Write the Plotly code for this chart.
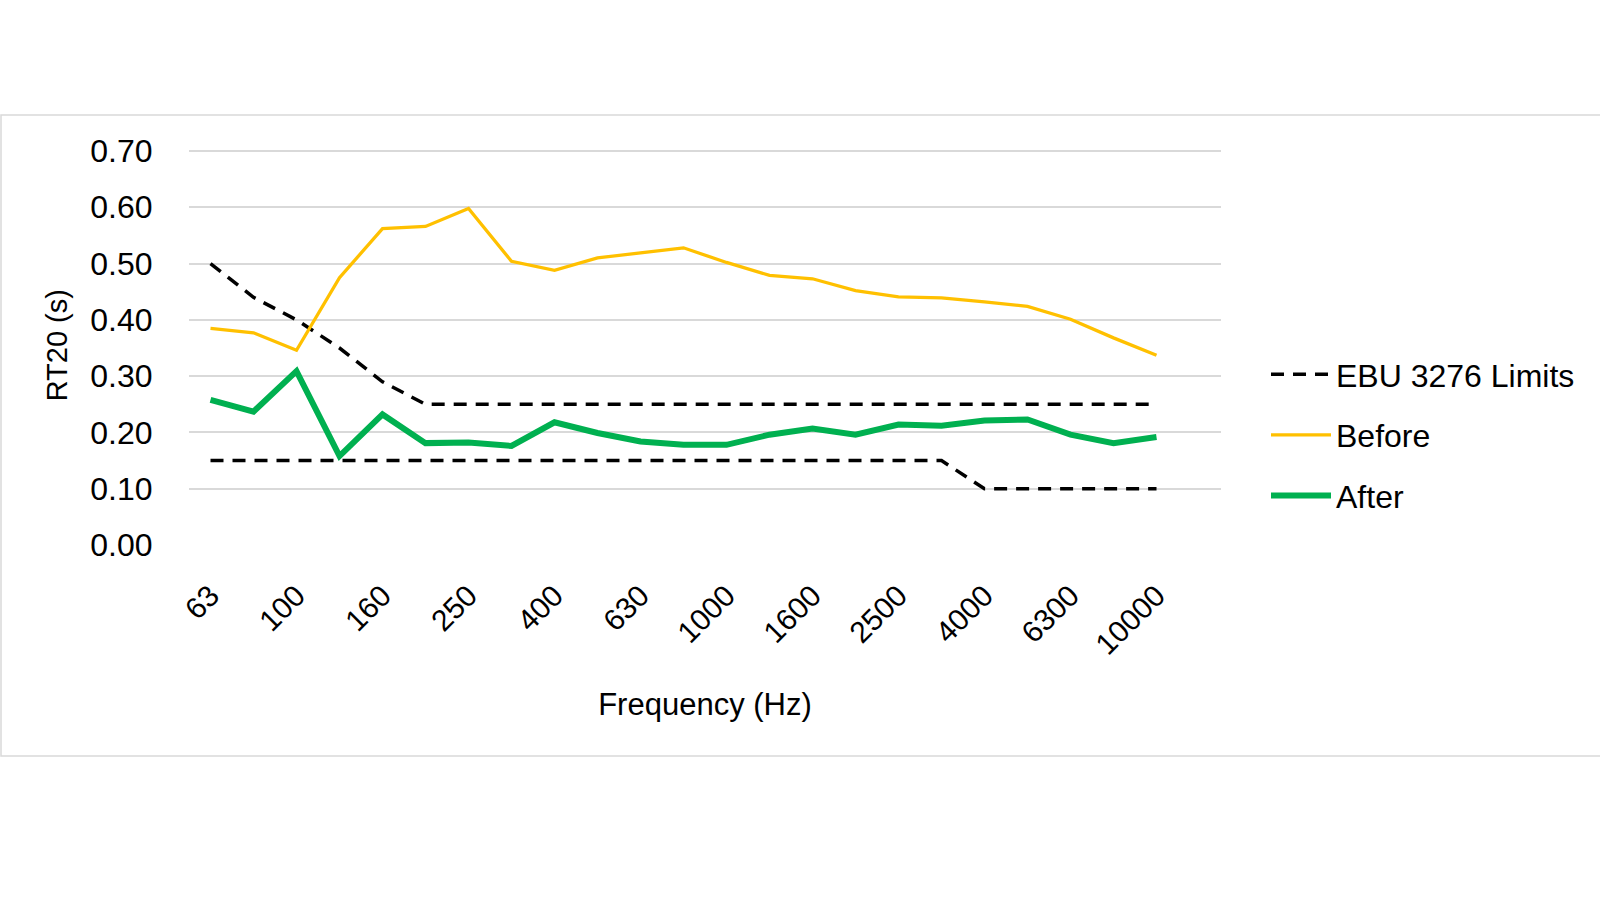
import plotly.graph_objects as go

# 1/3-octave band centre frequencies (last slot is an empty category)
freqs = ["63", "80", "100", "125", "160", "200", "250", "315", "400", "500",
         "630", "800", "1000", "1250", "1600", "2000", "2500", "3150", "4000",
         "5000", "6300", "8000", "10000", "12500"]
tick_labels = ["63", "100", "160", "250", "400", "630", "1000", "1600",
               "2500", "4000", "6300", "10000"]

before = [0.385, 0.377, 0.346, 0.475, 0.562, 0.566, 0.598, 0.504, 0.488, 0.510,
          0.519, 0.528, 0.502, 0.479, 0.473, 0.452, 0.441, 0.439, 0.432, 0.424,
          0.401, 0.368, 0.337, None]
after = [0.258, 0.237, 0.309, 0.158, 0.232, 0.181, 0.182, 0.176, 0.218, 0.199,
         0.184, 0.178, 0.178, 0.196, 0.207, 0.196, 0.214, 0.212, 0.221, 0.223,
         0.196, 0.181, 0.192, None]
ebu_upper = [0.50, 0.44, 0.40, 0.35, 0.29, 0.25, 0.25, 0.25, 0.25, 0.25,
             0.25, 0.25, 0.25, 0.25, 0.25, 0.25, 0.25, 0.25, 0.25, 0.25,
             0.25, 0.25, 0.25, None]
ebu_lower = [0.15, 0.15, 0.15, 0.15, 0.15, 0.15, 0.15, 0.15, 0.15, 0.15,
             0.15, 0.15, 0.15, 0.15, 0.15, 0.15, 0.15, 0.15, 0.10, 0.10,
             0.10, 0.10, 0.10, None]
y_ticks = [0, 0.1, 0.2, 0.3, 0.4, 0.5, 0.6, 0.7]

FONT = "Liberation Sans, Arial, sans-serif"
W, H = 1600, 900

fig = go.Figure()
fig.add_trace(go.Scatter(x=freqs, y=ebu_upper, mode="lines", name="EBU 3276 Limits",
                         legendgroup="ebu",
                         line=dict(color="#000000", width=3.5, dash="13px,9px")))
fig.add_trace(go.Scatter(x=freqs, y=ebu_lower, mode="lines", name="EBU 3276 Limits",
                         legendgroup="ebu", showlegend=False,
                         line=dict(color="#000000", width=3.5, dash="13px,9px")))
fig.add_trace(go.Scatter(x=freqs, y=before, mode="lines", name="Before",
                         legendgroup="before",
                         line=dict(color="#FFC000", width=3.3)))
fig.add_trace(go.Scatter(x=freqs, y=after, mode="lines", name="After",
                         legendgroup="after",
                         line=dict(color="#00B050", width=6)))

# plot area in pixels (0.00 at pb, 0.70 at pt); range padded slightly so the
# top gridline is drawn
pl, pr, pt, pb = 189, 1221, 151, 545
ymax = 0.71
top_px = pb - (pb - pt) * ymax / 0.7

fig.update_layout(
    width=W, height=H,
    margin=dict(l=0, r=0, t=0, b=0),
    paper_bgcolor="white", plot_bgcolor="white",
    font=dict(family=FONT, size=31, color="#000000"),
    xaxis=dict(
        domain=[pl / W, pr / W],
        type="category", categoryorder="array", categoryarray=freqs,
        range=[-0.5, len(freqs) - 0.5],
        tickmode="array", tickvals=tick_labels, ticktext=tick_labels,
        tickangle=-45, showgrid=False, zeroline=False, showline=False,
        ticks="outside", ticklen=20, tickcolor="rgba(0,0,0,0)",
        tickfont=dict(size=30),
        title=dict(text="Frequency (Hz)", font=dict(size=31), standoff=33),
        automargin=False,
    ),
    yaxis=dict(
        domain=[(H - pb) / H, (H - top_px) / H],
        range=[0, ymax], tickmode="array",
        tickvals=y_ticks,
        tickformat=".2f",
        showgrid=True, gridcolor="#D9D9D9", gridwidth=1.5,
        zeroline=False, showline=False,
        ticks="outside", ticklen=29, tickcolor="rgba(0,0,0,0)",
        tickfont=dict(size=32),
        title=dict(text="RT20 (s)", font=dict(size=29), standoff=14),
        automargin=False,
    ),
    legend=dict(
        x=1266 / W, y=(H - 347) / H, xanchor="left", yanchor="top",
        font=dict(size=32), traceorder="grouped", tracegroupgap=16,
        bgcolor="rgba(0,0,0,0)", itemwidth=60,
    ),
    shapes=[dict(type="rect", xref="paper", yref="paper",
                 x0=1 / W, x1=1.02, y0=(H - 756) / H, y1=(H - 115) / H,
                 line=dict(color="#D9D9D9", width=1.5), layer="below")],
    showlegend=True,
)

fig.write_html("out.html")
